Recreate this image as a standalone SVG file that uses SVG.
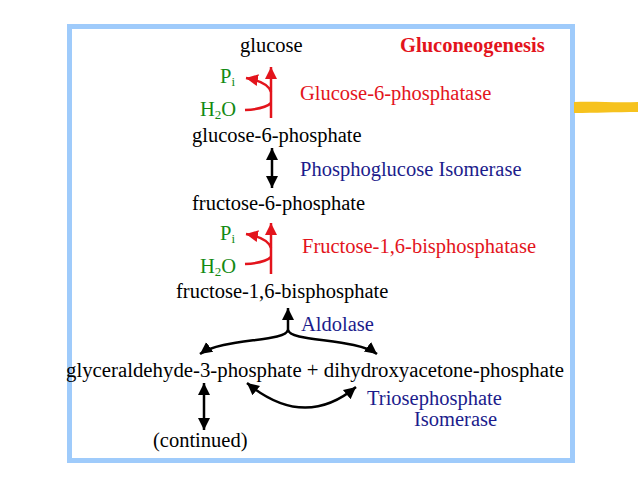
<svg xmlns="http://www.w3.org/2000/svg" width="638" height="478" viewBox="0 0 638 478">
<style>
text{font-family:'Liberation Serif','DejaVu Serif',serif;font-size:20.5px}
.k{fill:#000}
.r{fill:#e3141c}
.g{fill:#138a13}
.b{fill:#1c1c8c}
.sub{font-size:13px}
.ra{fill:none;stroke:#e3141c;stroke-width:2.5}
.ka{fill:none;stroke:#000;stroke-width:2.5}
</style>
<defs>
<marker id="rh" markerUnits="userSpaceOnUse" markerWidth="14" markerHeight="14" viewBox="0 0 14 14" refX="12" refY="7" orient="auto-start-reverse">
<path d="M0,1 L12,7 L0,13 z" fill="#e3141c"/>
</marker>
<marker id="kh" markerUnits="userSpaceOnUse" markerWidth="14" markerHeight="14" viewBox="0 0 14 14" refX="12" refY="7" orient="auto-start-reverse">
<path d="M0,1 L12,7 L0,13 z" fill="#000"/>
</marker>
</defs>
<rect x="0" y="0" width="638" height="478" fill="#fff"/>
<rect id="frame" x="69.5" y="26.5" width="503" height="434" fill="#fff" stroke="#9fcbfb" stroke-width="5"/>
<path id="highlight" d="M574,102 C595,101 615,103 638,102 L638,112 C615,112 595,113 574,113 z" fill="#f6c21e"/>
<g id="connectors">
<path class="ra" d="M271,118 L271,67" marker-end="url(#rh)"/>
<path class="ra" d="M271,92 Q268,82 246,78" marker-end="url(#rh)"/>
<path class="ra" d="M245,110 Q265,109 271,103"/>
<path class="ra" d="M271,274 L271,223" marker-end="url(#rh)"/>
<path class="ra" d="M271,248 Q268,238 246,234" marker-end="url(#rh)"/>
<path class="ra" d="M245,264 Q265,263 271,257"/>
<path class="ka" d="M272,148 L272,188" marker-start="url(#kh)" marker-end="url(#kh)"/>
<path class="ka" d="M288,308 L288,332" marker-start="url(#kh)"/>
<path class="ka" d="M288,330 C286,342 222,338 200,354" marker-end="url(#kh)"/>
<path class="ka" d="M288,330 C290,342 356,338 377,354" marker-end="url(#kh)"/>
<path class="ka" d="M247,383 Q304,430 356,387" marker-start="url(#kh)" marker-end="url(#kh)"/>
<path class="ka" d="M204,383 L204,430" marker-start="url(#kh)" marker-end="url(#kh)"/>
</g>
<g id="title"><text class="r" x="400" y="52" font-weight="bold">Gluconeogenesis</text></g>
<g id="glucose"><text class="k" x="240" y="52">glucose</text></g>
<g id="pi1"><text class="g" x="220" y="83">P<tspan class="sub" dy="3">i</tspan></text></g>
<g id="h2o1"><text class="g" x="200" y="116">H<tspan class="sub" dy="3">2</tspan><tspan dy="-3">O</tspan></text></g>
<g id="g6pase"><text class="r" x="300" y="100">Glucose-6-phosphatase</text></g>
<g id="g6p"><text class="k" x="192" y="142">glucose-6-phosphate</text></g>
<g id="pgi"><text class="b" x="300" y="176">Phosphoglucose Isomerase</text></g>
<g id="f6p"><text class="k" x="192" y="210">fructose-6-phosphate</text></g>
<g id="pi2"><text class="g" x="220" y="240">P<tspan class="sub" dy="3">i</tspan></text></g>
<g id="h2o2"><text class="g" x="200" y="273">H<tspan class="sub" dy="3">2</tspan><tspan dy="-3">O</tspan></text></g>
<g id="fbpase"><text class="r" x="302" y="253">Fructose-1,6-bisphosphatase</text></g>
<g id="f16bp"><text class="k" x="176" y="298">fructose-1,6-bisphosphate</text></g>
<g id="aldolase"><text class="b" x="301" y="331">Aldolase</text></g>
<g id="trioses"><text class="k" x="66" y="377" textLength="498" lengthAdjust="spacingAndGlyphs">glyceraldehyde-3-phosphate + dihydroxyacetone-phosphate</text></g>
<g id="tpi"><text class="b" x="367" y="405">Triosephosphate</text><text class="b" x="414" y="426">Isomerase</text></g>
<g id="continued"><text class="k" x="153" y="447">(continued)</text></g>
</svg>
